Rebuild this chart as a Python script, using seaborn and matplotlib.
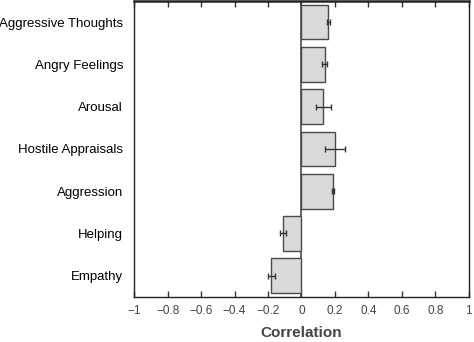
import seaborn as sns
import pandas as pd
import matplotlib.pyplot as plt

# 상관계수 값
outcomes = ["Aggressive Thoughts", "Angry Feelings", "Arousal", "Hostile Appraisals",
            "Aggression", "Helping", "Empathy"]
corr = [0.16, 0.14, 0.13, 0.20, 0.19, -0.11, -0.18]
err = [0.010, 0.015, 0.045, 0.060, 0.005, 0.020, 0.020]
xticks = [-1, -0.8, -0.6, -0.4, -0.2, 0, 0.2, 0.4, 0.6, 0.8, 1]
xticklabels = ["\u22121", "\u22120.8", "\u22120.6", "\u22120.4", "\u22120.2", "0",
               "0.2", "0.4", "0.6", "0.8", "1"]

df = pd.DataFrame({"outcome": outcomes, "r": corr, "err": err})

sns.set_style("white")
plt.rcParams["font.family"] = ["Liberation Sans", "DejaVu Sans"]

fig = plt.figure(figsize=(4.74, 3.42), dpi=100)
ax = fig.add_axes([0.283, 0.132, 0.706, 0.865])

sns.barplot(data=df, x="r", y="outcome", orient="h", color="#d9d9d9",
            edgecolor="#4a4a4a", linewidth=1.0, width=0.82, saturation=1, ax=ax)
ax.errorbar(df["r"], range(len(df)), xerr=df["err"], fmt="none",
            ecolor="#333333", elinewidth=1.0, capsize=2.5, capthick=1.0)
ax.axvline(0, color="#4a4a4a", lw=1.2, zorder=0.5)

ax.set_xlim(-1, 1)
ax.set_ylim(6.5, -0.5)
ax.set_xticks(xticks)
ax.set_xticklabels(xticklabels, fontsize=8.5, color="#444444")
ax.tick_params(axis="x", direction="in", length=4, width=1, top=True, bottom=True,
               color="#333333", pad=6)
ax.tick_params(axis="y", length=0, pad=8, labelsize=9.5, labelcolor="black")
ax.set_ylabel("")
ax.set_xlabel("Correlation", fontsize=11, fontweight="bold", color="#444444", labelpad=6)
for s in ax.spines.values():
    s.set_visible(True)
    s.set_color("#222222")
    s.set_linewidth(1.0)
ax.spines["top"].set_linewidth(1.8)

plt.savefig("out.png", dpi=100)
